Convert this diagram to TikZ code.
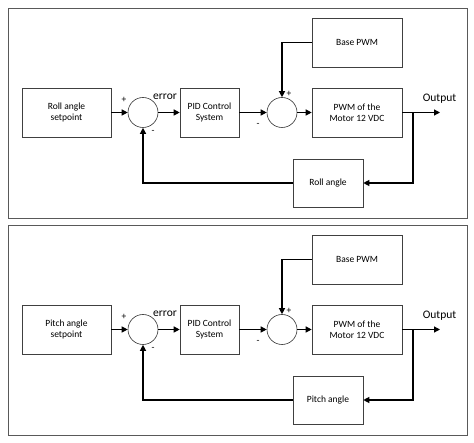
\documentclass[tikz,border=0pt]{standalone}
\usepackage{fontspec}
\setmainfont{Carlito}
\usetikzlibrary{arrows.meta}
\newcommand\drawpanel[3]{%
\begin{scope}[shift={(0,#1)}]
  \draw[frame] (8,8) rectangle (467,218);
  \node[blk, minimum width=89pt, minimum height=49pt] (#2sp) at (66.5,112.5) {#3 angle\\setpoint};
  \node[sum] (#2s1) at (143,112.5) {};
  \node[blk, minimum width=59pt, minimum height=49pt] (#2pid) at (209.5,112.5) {PID Control\\System};
  \node[sum] (#2s2) at (282,112.5) {};
  \node[blk, minimum width=90pt, minimum height=49pt] (#2base) at (357,42.5) {Base PWM};
  \node[blk, minimum width=90pt, minimum height=49pt] (#2pwm) at (357,112.5) {PWM of the\\Motor 12 VDC};
  \node[blk, minimum width=70pt, minimum height=48pt] (#2fb) at (328,183) {#3 angle};
  \coordinate (#2br) at (413,112.5);
  \coordinate (#2out) at (440,112.5);
  \draw[conn] (#2sp.east) -- (#2s1.west);
  \draw[conn] (#2s1.east) -- (#2pid.west);
  \draw[conn] (#2pid.east) -- (#2s2.west);
  \draw[conn] (#2s2.east) -- (#2pwm.west);
  \draw[line width=1.2pt] (#2pwm.east) -- (#2br);
  \draw[conn] (#2br) -- (#2out);
  \draw[conn] (#2br) |- (#2fb.east);
  \draw[conn] (#2fb.west) -| (#2s1.south);
  \draw[conn] (#2base.west) -| (#2s2.north);
  \node[sgn] (#2p1) at (124,100) {+};
  \node[sgn] (#2m1) at (153,132) {-};
  \node[big] (#2err) at (165,97) {error};
  \node[sgn] (#2p2) at (289,94) {+};
  \node[sgn] (#2m2) at (258,125) {-};
  \node[big] (#2outl) at (439.5,99) {Output};
\end{scope}}
\begin{document}
\begin{tikzpicture}[x=1pt,y=-1pt,
  frame/.style={draw=black!65, line width=0.8pt},
  blk/.style={draw=black!75, line width=0.6pt, inner sep=0pt, align=center, font=\fontsize{9.5}{11.5}\selectfont},
  sum/.style={circle, draw=black!80, line width=0.6pt, minimum size=30pt, inner sep=0pt},
  conn/.style={line width=1.2pt, -{Triangle[length=6pt,width=6pt]}},
  sgn/.style={inner sep=0pt, font=\fontsize{9.5}{10}\selectfont},
  big/.style={inner sep=0pt, font=\fontsize{11.5}{13}\selectfont}]
  \useasboundingbox (0,0) rectangle (474,443);
  \fill[white] (0,0) rectangle (474,443);
  \drawpanel{0}{a}{Roll}
  \drawpanel{217}{b}{Pitch}
\end{tikzpicture}
\end{document}
